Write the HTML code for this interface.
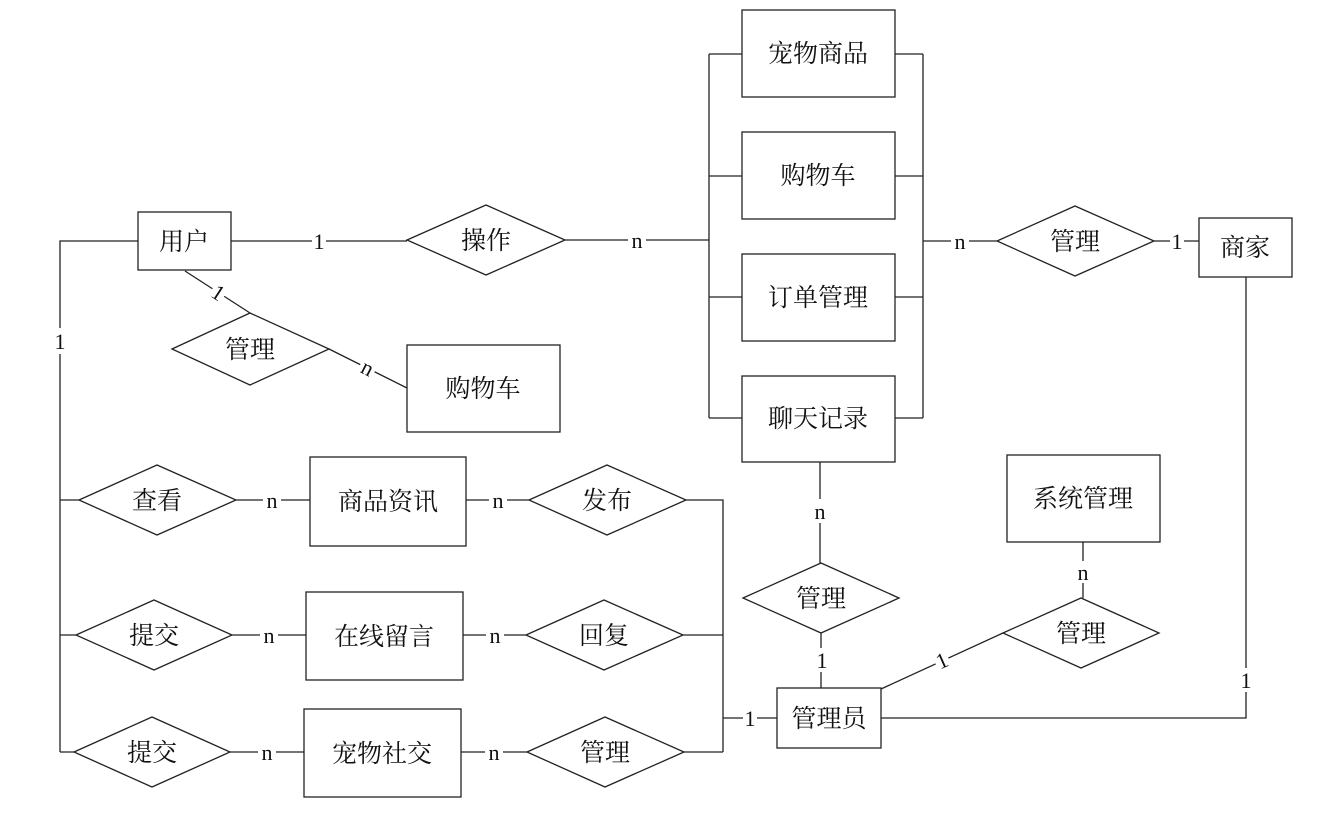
<!DOCTYPE html>
<html><head><meta charset="utf-8"><style>
body{margin:0;background:#fff}
svg text{font-family:"Liberation Serif","Noto Serif CJK SC",serif;fill:#111}
.t{font-size:25px}
.n{font-size:22px}
</style></head><body>
<svg width="1318" height="808" viewBox="0 0 1318 808" xmlns="http://www.w3.org/2000/svg">
<g fill="none" stroke="#222" stroke-width="1.3">
<rect x="742" y="10" width="153" height="87"/>
<rect x="742" y="132" width="153" height="87"/>
<rect x="742" y="254" width="153" height="87"/>
<rect x="742" y="376" width="153" height="86"/>
<rect x="138" y="212" width="93" height="58"/>
<rect x="407" y="345" width="153" height="87"/>
<rect x="1199" y="218" width="93" height="59"/>
<rect x="1007" y="455" width="153" height="87"/>
<rect x="310" y="457" width="156" height="89"/>
<rect x="306" y="592" width="157" height="88"/>
<rect x="304" y="709" width="157" height="88"/>
<rect x="777" y="688" width="104" height="60"/>
<polygon points="407,240 486,205 565,240 486,275"/>
<polygon points="997,241 1075,206 1154,241 1075,276"/>
<polygon points="172,349 250,313 329,349 250,385"/>
<polygon points="79,500 157,465 236,500 157,535"/>
<polygon points="529,500 607,465 686,500 607,535"/>
<polygon points="76,635 154,600 232,635 154,670"/>
<polygon points="526,635 604,600 683,635 604,670"/>
<polygon points="74,752 152,717 230,752 152,787"/>
<polygon points="527,752 605,717 684,752 605,787"/>
<polygon points="743,598 821,563 899,598 821,633"/>
<polygon points="1003,633 1081,598 1159,633 1081,668"/>
<path d="M709,54V418M709,54H742M709,176H742M709,297H742M709,418H742M565,240H709"/>
<path d="M923,54V418M895,54H923M895,176H923M895,297H923M895,418H923M923,241H997M1154,241H1199"/>
<path d="M231,241H407M138,241H60V752M60,500H79M60,635H76M60,752H74"/>
<path d="M236,500H310M466,500H529M232,635H306M463,635H526M230,752H304M461,752H527"/>
<path d="M686,500H723V752M683,635H723M684,752H723M723,718H777"/>
<path d="M820,462V563M821,633V688M881,689L1003,633M1083,542V598M1246,277V718H881"/>
<path d="M185,271L250,313M329,349L407,388"/>
</g>
<g class="n" text-anchor="middle">
<rect x="628" y="230" width="18" height="22" fill="#fff"/><text x="637" y="248">n</text>
<rect x="951" y="230" width="18" height="22" fill="#fff"/><text x="960" y="249">n</text>
<rect x="1170" y="230" width="14" height="22" fill="#fff"/><text x="1177" y="249">1</text>
<rect x="312" y="230" width="14" height="22" fill="#fff"/><text x="319" y="249">1</text>
<rect x="52" y="328" width="16" height="26" fill="#fff"/><text x="60" y="349">1</text>
<rect x="263" y="490" width="18" height="22" fill="#fff"/><text x="272" y="508">n</text>
<rect x="489" y="490" width="18" height="22" fill="#fff"/><text x="498" y="508">n</text>
<rect x="260" y="625" width="18" height="22" fill="#fff"/><text x="269" y="643">n</text>
<rect x="486" y="625" width="18" height="22" fill="#fff"/><text x="495" y="643">n</text>
<rect x="258" y="742" width="18" height="22" fill="#fff"/><text x="267" y="760">n</text>
<rect x="485" y="742" width="18" height="22" fill="#fff"/><text x="494" y="760">n</text>
<rect x="743" y="707" width="14" height="22" fill="#fff"/><text x="750" y="726">1</text>
<rect x="811" y="499" width="18" height="24" fill="#fff"/><text x="820" y="519">n</text>
<rect x="814" y="648" width="16" height="24" fill="#fff"/><text x="822" y="668">1</text>
<rect x="1074" y="561" width="18" height="22" fill="#fff"/><text x="1083" y="580">n</text>
<rect x="1238" y="668" width="16" height="24" fill="#fff"/><text x="1246" y="688">1</text>
<g transform="translate(218,293) rotate(33)"><rect x="-7" y="-12" width="14" height="22" fill="#fff"/><text x="0" y="7">1</text></g>
<g transform="translate(367,369) rotate(27)"><rect x="-8" y="-12" width="16" height="20" fill="#fff"/><text x="0" y="6">n</text></g>
<g transform="translate(942,661) rotate(-24)"><rect x="-7" y="-12" width="14" height="22" fill="#fff"/><text x="0" y="7">1</text></g>
</g>
<g class="t" text-anchor="middle">
<text x="818" y="62">宠物商品</text>
<text x="818" y="184">购物车</text>
<text x="818" y="306">订单管理</text>
<text x="818" y="427">聊天记录</text>
<text x="184" y="250">用户</text>
<text x="483" y="397">购物车</text>
<text x="1245" y="256">商家</text>
<text x="1083" y="507">系统管理</text>
<text x="388" y="510">商品资讯</text>
<text x="384" y="645">在线留言</text>
<text x="382" y="762">宠物社交</text>
<text x="829" y="727">管理员</text>
<text x="486" y="249">操作</text>
<text x="1075" y="250">管理</text>
<text x="250" y="358">管理</text>
<text x="157" y="509">查看</text>
<text x="607" y="509">发布</text>
<text x="154" y="644">提交</text>
<text x="604" y="644">回复</text>
<text x="152" y="761">提交</text>
<text x="605" y="761">管理</text>
<text x="821" y="607">管理</text>
<text x="1081" y="642">管理</text>
</g>
</svg>
</body></html>
